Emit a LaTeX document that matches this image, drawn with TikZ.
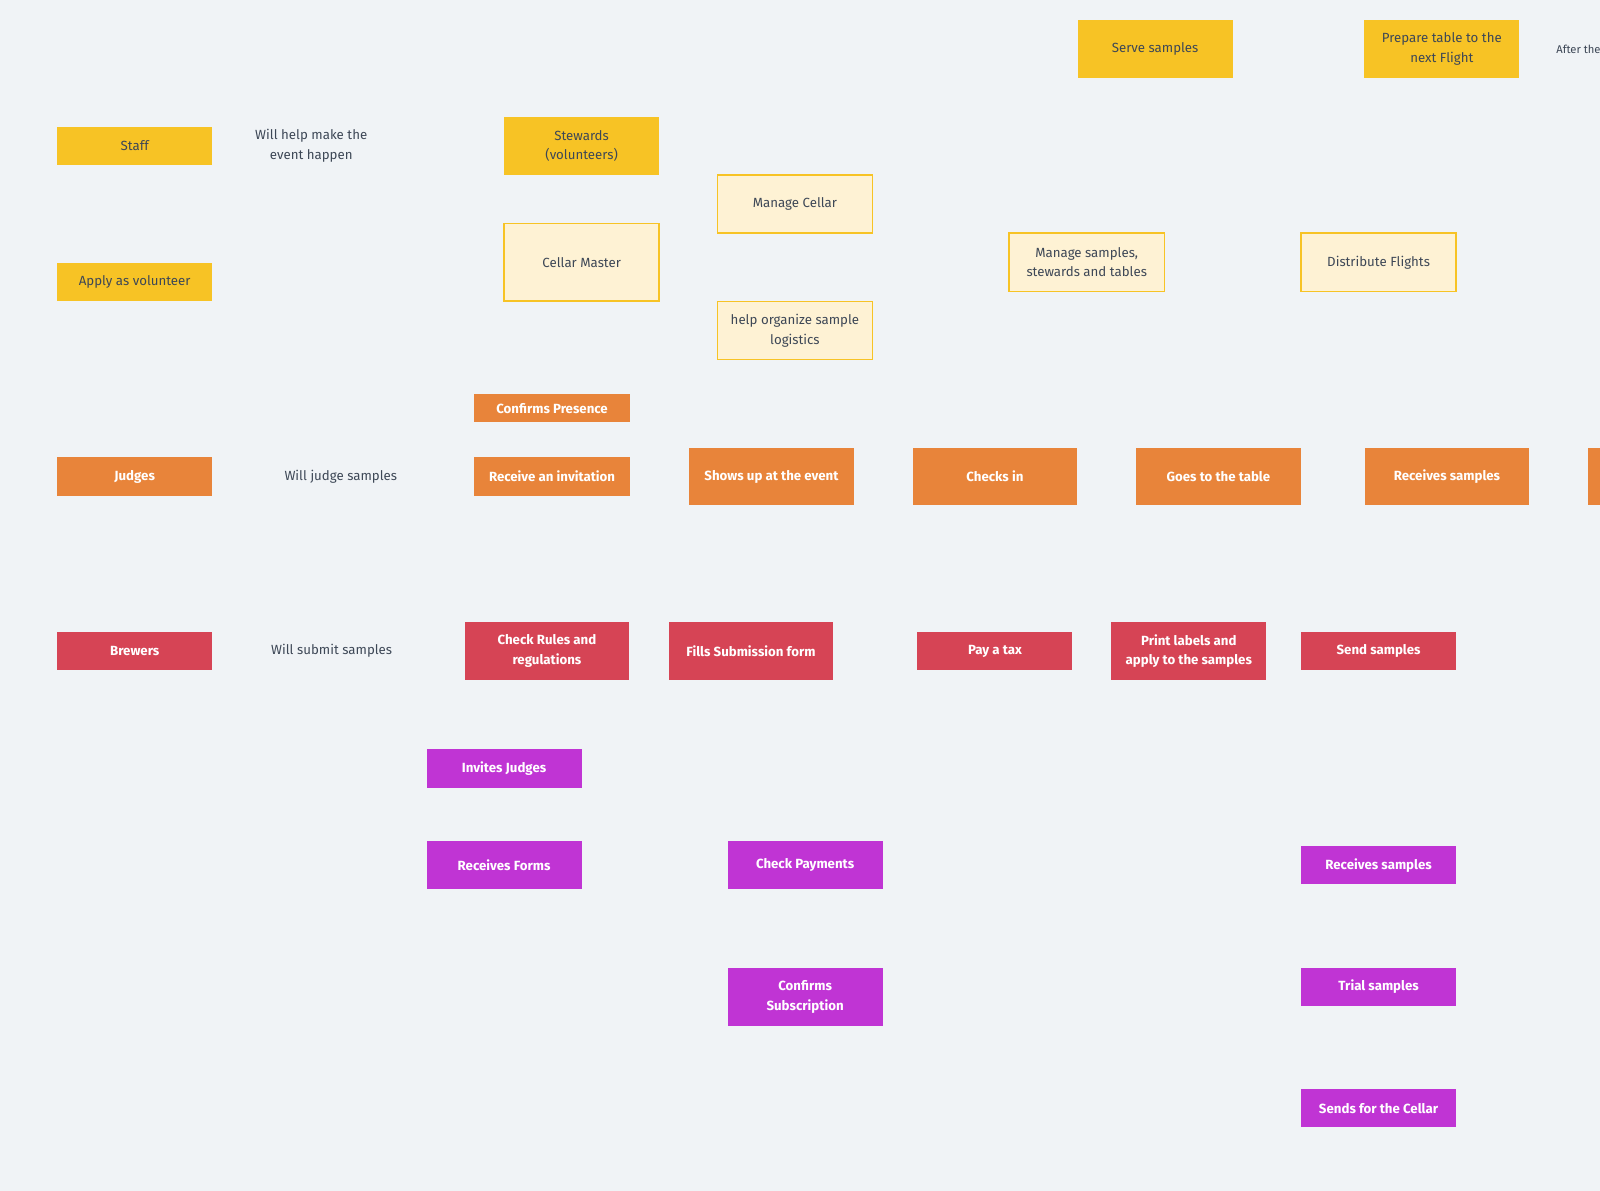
\documentclass[tikz,border=0pt]{standalone}
\usepackage{fontspec}
\setmainfont{Fira Sans}
\usetikzlibrary{arrows.meta,backgrounds}
\definecolor{bg}{HTML}{F0F3F6}
\definecolor{ln}{HTML}{7B8A9B}
\definecolor{yel}{HTML}{F7C325}
\definecolor{lyel}{HTML}{FEF2D4}
\definecolor{ora}{HTML}{E8843A}
\definecolor{lora}{HTML}{FCE3D2}
\definecolor{red}{HTML}{D64455}
\definecolor{lred}{HTML}{F9D8DC}
\definecolor{pur}{HTML}{C034D4}
\definecolor{txt}{HTML}{3D4756}
\tikzset{
 box/.style={rectangle,minimum width=152pt,inner sep=2pt,align=center,font=\fontsize{13}{19}\selectfont},
 Y/.style={box,fill=yel,text=txt},
 LY/.style={box,fill=lyel,draw=yel,line width=1.5pt,text=txt},
 O/.style={box,fill=ora,text=white,font=\fontsize{13}{19}\selectfont\bfseries},
 R/.style={box,fill=red,text=white,font=\fontsize{13}{19}\selectfont\bfseries},
 P/.style={box,fill=pur,text=white,font=\fontsize{13}{19}\selectfont\bfseries},
 pt/.style={box,minimum width=136pt,text=txt},
 c/.style={ln,line width=2.4pt,rounded corners=10pt},
 a/.style={c,-{Triangle[width=8pt,length=6pt]}},
}
\newcommand{\para}[4]{% name, fill, draw
 \draw[fill=#2,draw=#3,line width=1.5pt] ([xshift=0pt]#1.north west)--([xshift=15pt]#1.north east)--(#1.south east)--([xshift=-15pt]#1.south west)--cycle;}
\begin{document}
\begin{tikzpicture}[x=1pt,y=-1pt]
\fill[bg] (0,0) rectangle (1568,1167);
\useasboundingbox (0,0) rectangle (1568,1167);
% yellow
\node[Y,minimum height=37pt] (staff) at (132,143) {Staff};
\node[Y,minimum height=37pt] (apply) at (132,276) {Apply as volunteer};
\node[pt,minimum height=57pt] (help) at (305,143) {Will help make the\\ event happen};
\node[Y,minimum height=57pt] (stew) at (570,143) {Stewards\\ (volunteers)};
\node[LY,minimum height=76pt] (cm) at (570,257) {Cellar Master};
\node[LY,minimum height=57pt] (mc) at (779,200) {Manage Cellar};
\node[LY,minimum height=57pt] (hos) at (779,324) {help organize sample\\ logistics};
\node[LY,minimum height=57pt] (ms) at (1065,257) {Manage samples,\\ stewards and tables};
\node[LY,minimum height=57pt] (df) at (1351,257) {Distribute Flights};
\node[Y,minimum height=56pt] (serve) at (1132,48) {Serve samples};
\node[Y,minimum height=56pt] (prep) at (1413,48) {Prepare table to the\\ next Flight};
\node[text=txt,font=\fontsize{11}{13}\selectfont,anchor=west,inner sep=1pt] (after) at (1524,48) {After the};
% orange
\node[O,minimum height=38pt] (judges) at (132,467) {Judges};
\node[pt,minimum height=38pt] (wj) at (334,467) {Will judge samples};
\node[O,minimum height=38pt] (ri) at (541,467) {Receive an invitation};
\node[O,minimum height=28pt] (cp) at (541,400) {Confirms Presence};
\node[O,minimum height=56pt,minimum width=161pt] (su) at (756,467) {Shows up at the event};
\node[O,minimum height=56pt,minimum width=161pt] (ci) at (975,467) {Checks in};
\node[O,minimum height=56pt,minimum width=161pt] (gt) at (1194,467) {Goes to the table};
\node[O,minimum height=56pt,minimum width=161pt] (rs) at (1418,467) {Receives samples};
\node[O,minimum height=56pt,minimum width=161pt] (nx) at (1637,467) {};
% red
\node[R,minimum height=37pt] (brew) at (132,638) {Brewers};
\node[pt,minimum height=37pt] (ws) at (325,638) {Will submit samples};
\node[R,minimum height=56pt,minimum width=161pt] (cr) at (536,638) {Check Rules and\\ regulations};
\node[R,minimum height=56pt,minimum width=161pt] (fs) at (736,638) {Fills Submission form};
\node[R,minimum height=37pt] (pay) at (975,638) {Pay a tax};
\node[R,minimum height=56pt] (pl) at (1165,638) {Print labels and\\ apply to the samples};
\node[R,minimum height=37pt] (send) at (1351,638) {Send samples};
% purple
\node[P,minimum height=38pt] (ij) at (494,753) {Invites Judges};
\node[P,minimum height=47pt] (rf) at (494,848) {Receives Forms};
\node[P,minimum height=47pt] (chp) at (789,848) {Check Payments};
\node[P,minimum height=56pt] (cs) at (789,977) {Confirms\\ Subscription};
\node[P,minimum height=37pt] (rsp) at (1351,848) {Receives samples};
\node[P,minimum height=37pt] (ts) at (1351,967) {Trial samples};
\node[P,minimum height=37pt] (sc) at (1351,1086) {Sends for the Cellar};
\coordinate (L) at (0,467);
\coordinate (L2) at (0,753);
\coordinate (R1) at (1568,353);
\coordinate (R2) at (1568,638);
\begin{scope}[on background layer]
\fill[bg] (0,0) rectangle (1568,1167);
\para{help}{lyel}{yel}
\para{wj}{lora}{ora}
\para{ws}{lred}{red}
\draw[a] (L) -- (18,467) |- (staff);
\draw[a] (L) -- (18,467) |- (brew);
\draw[a] (L) -- (judges);
\draw[a] (staff) -- ([xshift=-6pt]help.west);
\draw[a] (staff) -- (apply);
\draw[a] ([xshift=-4pt]help.east) -- (stew);
\draw[a] ([xshift=-4pt]help.east) -- (455,143) |- (cm);
\draw[a] (stew.east) -- (670,143) |- ([xshift=-6pt]serve.west);
\draw[a] (serve) -- ([xshift=-4pt]prep.west);
\draw[a] (prep.south) |- (1132,114) -- ([yshift=-4pt]serve.south);
\draw[a] (cm.east) -- (683,257) |- (mc.west);
\draw[a] (cm.east) -- (683,257) |- (hos.west);
\draw[a] ([xshift=4pt]mc.east) -| (940,257) -- ([xshift=-4pt]ms.west);
\draw[c] ([xshift=4pt]hos.east) -| (940,257);
\draw[a] ([xshift=4pt]ms.east) -- ([xshift=-4pt]df.west);
\draw[a] ([xshift=4pt]df.east) -| (1465,153) -| ([xshift=-28pt,yshift=-4pt]serve.south);
\draw[a] (R1) -| ([xshift=-9pt]ms.south);
\node[fill=bg,text=txt,inner sep=2pt,font=\fontsize{12}{14}\selectfont] at (1179,353) {After first Round (B.O.S.)};
\draw[c] ([xshift=4pt]prep.east) -- (after.west);
\draw[a] ([xshift=4pt]judges.east) -- ([xshift=-4pt]wj.west);
\draw[a] ([xshift=-4pt]wj.east) -- ([xshift=-4pt]ri.west);
\draw[a] ([yshift=-4pt]ri.north) -- ([yshift=-4pt]cp.south);
\draw[a] ([xshift=4pt]cp.east) -| (655,467) -- ([xshift=-4pt]su.west);
\draw[a] ([xshift=4pt]ri.east) -- ([xshift=-4pt]su.west);
\draw[a] ([xshift=4pt]su.east) -- ([xshift=-4pt]ci.west);
\draw[a] ([xshift=4pt]ci.east) -- ([xshift=-4pt]gt.west);
\draw[a] ([xshift=4pt]gt.east) -- ([xshift=-4pt]rs.west);
\draw[a] ([xshift=4pt]rs.east) -- ([xshift=-4pt]nx.west);
\draw[a] ([xshift=4pt]brew.east) -- ([xshift=-4pt]ws.west);
\draw[a] ([xshift=-4pt]ws.east) -- ([xshift=-4pt]cr.west);
\draw[a] ([xshift=4pt]cr.east) -- ([xshift=-4pt]fs.west);
\draw[a] ([xshift=4pt]fs.east) -- ([xshift=-4pt]pay.west);
\draw[a] ([xshift=4pt]pay.east) -- ([xshift=-4pt]pl.west);
\draw[a] ([xshift=4pt]pl.east) -- ([xshift=-4pt]send.west);
\draw[c] ([xshift=4pt]send.east) -- (R2);
\draw[a] (56,283) |- ([xshift=-4pt]rf.west);
\draw[a] (L2) -- ([xshift=-4pt]ij.west);
\draw[a] (L2) -- (390,753) |- ([xshift=-4pt]rf.west);
\draw[a] (428,734) |- (494,563) -- ([yshift=-4pt]ri.south);
\draw[a] ([yshift=-4pt]fs.south) |- (647,705) |- (577,824);
\draw[a] ([xshift=4pt]rf.east) -- ([xshift=-4pt]chp.west);
\draw[a] ([xshift=4pt]chp.east) -- ([xshift=-4pt]rsp.west);
\draw[a] ([yshift=-4pt]pay.south) |- (789,719) -- ([yshift=4pt]chp.north);
\draw[a] ([yshift=-4pt]chp.south) -- ([yshift=4pt]cs.north);
\draw[a] ([xshift=4pt]cs.east) -| ([xshift=-66pt,yshift=-4pt]pl.south);
\draw[a] ([yshift=-4pt]send.south) -- ([yshift=4pt]rsp.north);
\draw[a] ([yshift=-4pt]rsp.south) -- ([yshift=4pt]ts.north);
\draw[a] ([yshift=-4pt]ts.south) -- ([yshift=4pt]sc.north);
\draw[a] ([yshift=-4pt]sc.south) |- (893,1143) |- (779,268) -- ([yshift=-4pt]mc.south);
\draw[a] ([yshift=-4pt]hos.south) |- (893,390) |- (1322,790) -- ([xshift=-29pt,yshift=4pt]rsp.north);
\end{scope}
\end{tikzpicture}
\end{document}
